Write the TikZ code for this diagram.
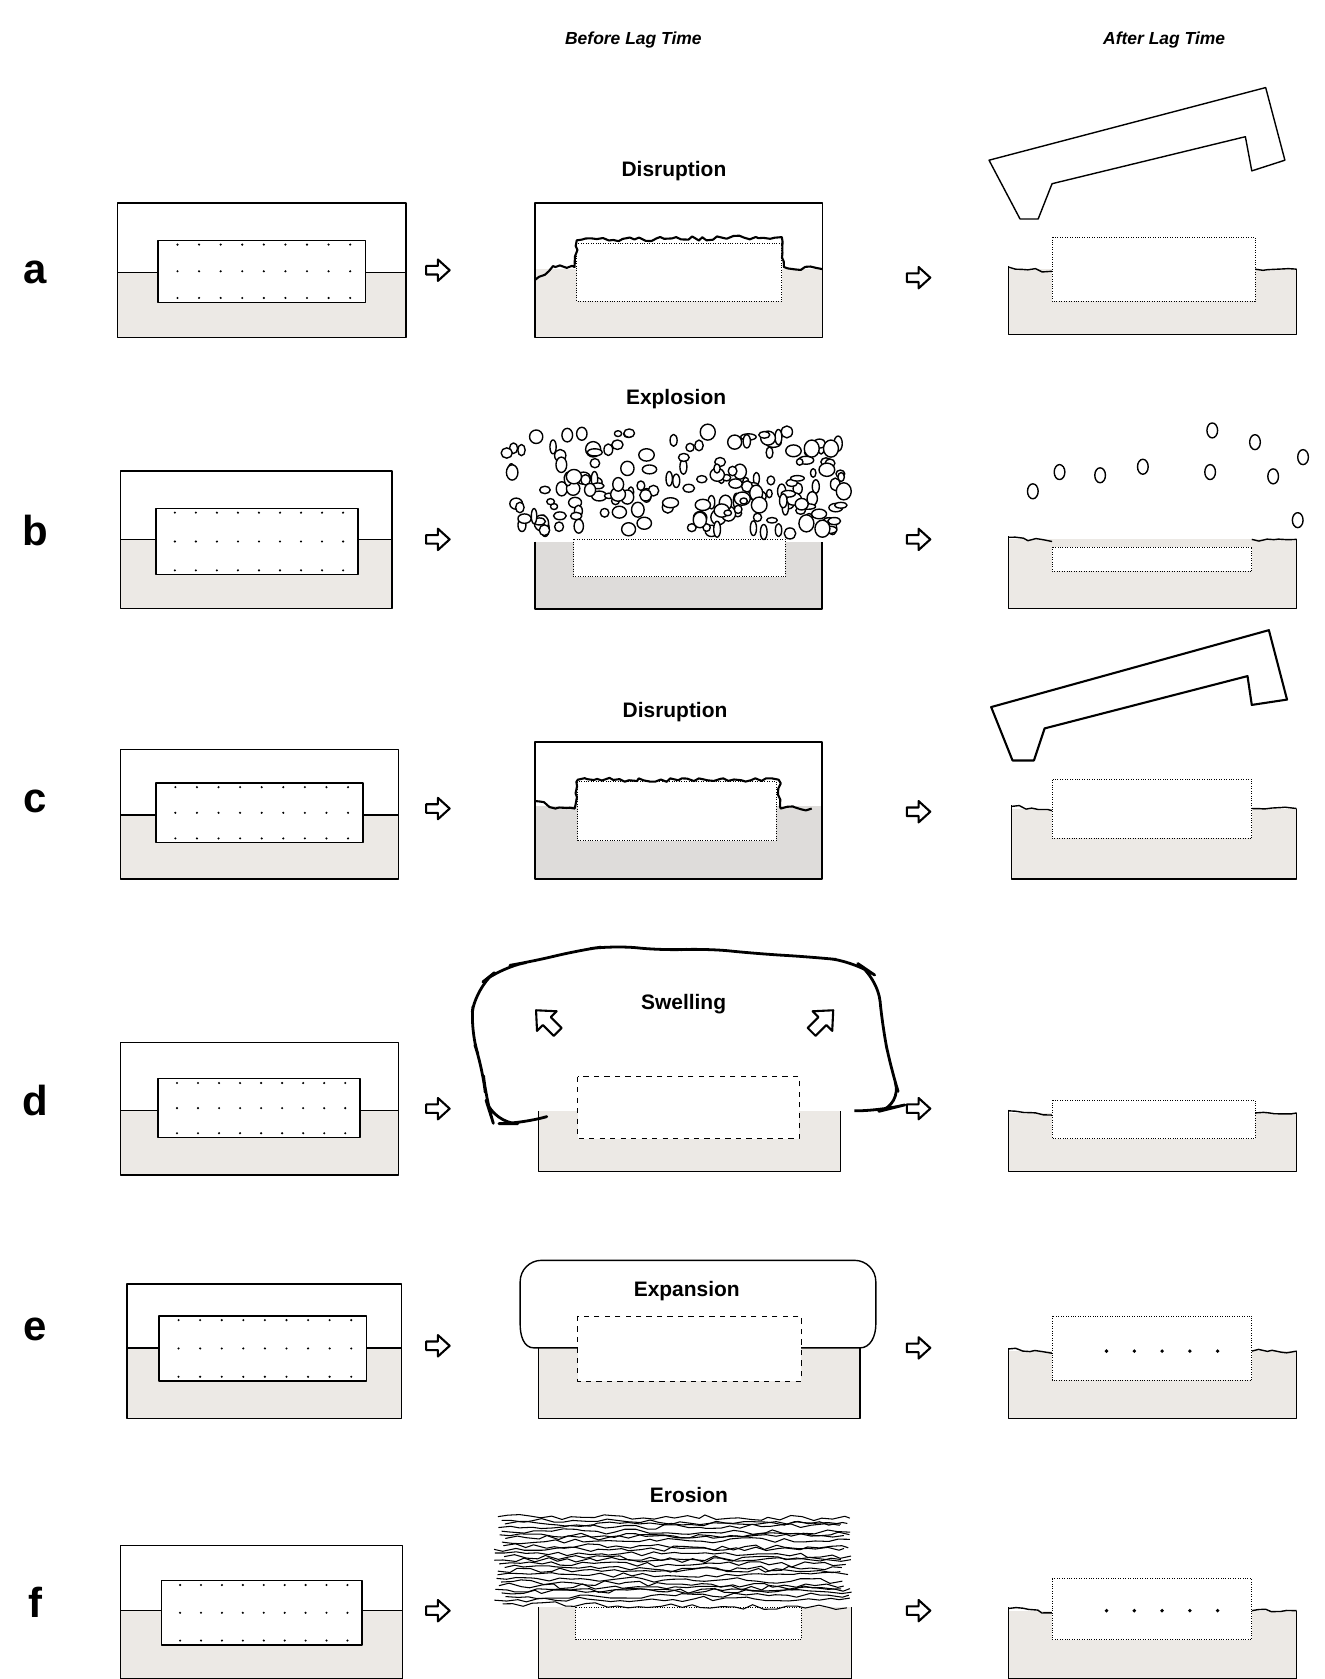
\documentclass[tikz,border=0pt]{standalone}
\usepackage{fontspec}
\setmainfont{Liberation Sans}
\usetikzlibrary{decorations.pathmorphing}
\definecolor{gel}{RGB}{236,233,229}
\definecolor{geld}{RGB}{222,220,218}
\tikzset{
  ground/.style={fill=gel},
  cavity/.style={densely dotted, fill=white},
  fatarrow/.style={very thick, fill=white},
  title/.style={font=\bfseries\large},
  letter/.style={font=\bfseries\fontsize{24}{26}\selectfont},
}
% outlined block arrow at #1, rotated #2, size #3
\newcommand{\blockarrow}[3]{
  \draw[fatarrow, shift={#1}, rotate=#2, scale=#3]
    (-11,-4) -- (0,-4) -- (0,-10) -- (11,0) -- (0,10) -- (0,4) -- (-11,4) -- cycle;
}
% left panel: box x1,y1,x2,y2 ; inner ix1,iy1,ix2,iy2 ; ground level g
\newcommand{\leftpanel}[9]{
  \fill[gel] (#1,#9) rectangle (#3,#4);
  \draw[thick] (#1,#2) rectangle (#3,#4);
  \draw[thick] (#1,#9) -- (#5,#9) (#7,#9) -- (#3,#9);
  \draw[thick, fill=white] (#5,#6) rectangle (#7,#8);
  \foreach \i in {1,...,9}
    \foreach \j in {0,1,2}
      \fill ({#5+(#7-#5)*(\i-0.1)/9.6},{#6+4+(#8-#6-8)*\j/2}) circle (1.1);
}
% after-lag ground: x1,g,x2,y2 ; cavity cx1,cy1,cx2,cy2
\newcommand{\afterpanel}[8]{
  \fill[gel] (#1,#2) rectangle (#3,#4);
  \draw[thick] (#1,#2-3) -- (#1,#4) -- (#3,#4) -- (#3,#2);
  \draw[thick, decorate, decoration={random steps,segment length=4pt,amplitude=1pt}]
    (#1,#2-2) -- (#5,#2+2) (#7,#2) -- (#3,#2);
  \draw[cavity] (#5,#6) rectangle (#7,#8);
}
\begin{document}
\begin{tikzpicture}[x=0.0215cm, y=-0.0215cm, line join=round]
\useasboundingbox (0,0) rectangle (1240,1572);
\pgfmathsetseed{7}

% headers
\node[font=\bfseries\itshape] (before) at (593,37) {Before Lag Time};
\node[font=\bfseries\itshape] (after) at (1090,37) {After Lag Time};

% row letters
\foreach \l/\y in {a/255, b/497, c/750, d/1030, e/1245, f/1500}
  \node[letter] (row\l) at (33,\y) {\l};

% left panels
\leftpanel{110}{190}{380}{316}{148}{225}{342}{283}{255}
\leftpanel{113}{441}{367}{570}{146}{476}{335}{538}{505}
\leftpanel{113}{702}{373}{823}{146}{733}{340}{789}{763}
\leftpanel{113}{976}{373}{1100}{148}{1010}{337}{1065}{1040}
\leftpanel{119}{1202}{376}{1328}{149}{1232}{343}{1293}{1262}
\leftpanel{113}{1447}{377}{1572}{151}{1480}{339}{1540}{1508}

% arrows between panels
\foreach \y in {253, 505, 757, 1038, 1260, 1508}
  \blockarrow{(410,\y)}{0}{1};
\foreach \y in {260, 505, 760, 1038, 1262, 1508}
  \blockarrow{(860,\y)}{0}{1};

% ---- row a: disruption
\node[title] (ta) at (631,160) {Disruption};
\fill[gel] (501,252) rectangle (770,316);
\draw[cavity] (540,228) rectangle (732,282);
\draw[thick] (501,190) rectangle (770,316);
\draw[very thick, decorate, decoration={random steps,segment length=3pt,amplitude=1.2pt}]
  (501,262) -- (520,250) -- (538,250) -- (540,225) -- (732,222) -- (734,250) -- (770,252);
\afterpanel{944}{252}{1214}{313}{985}{222}{1175}{282}
\draw[thick, fill=white] (926,150) -- (1185,82) -- (1203,150) -- (1172,160) -- (1166,128)
  -- (985,172) -- (972,205) -- (955,205) -- cycle;

% ---- row b: explosion
\node[title] (tb) at (633,374) {Explosion};
\fill[geld] (501,507) rectangle (770,570);
\draw[very thick] (501,507) -- (501,570) -- (770,570) -- (770,507);
\draw[cavity] (537,505) rectangle (735,540);
\foreach \k in {1,...,170}{
  \pgfmathsetmacro\px{632+160*rand}
  \pgfmathsetmacro\py{452+48*rand}
  \pgfmathsetmacro\rx{5+2.5*rand}
  \pgfmathsetmacro\ry{5+2.5*rand}
  \draw[thick, fill=white] (\px,\py) ellipse [x radius=\rx, y radius=\ry];
}
\foreach \px/\py in {760/420, 778/420, 790/460, 770/495, 755/490}
  \draw[thick, fill=white] (\px,\py) ellipse [x radius=7, y radius=8];
\afterpanel{944}{505}{1214}{570}{985}{512}{1172}{535}
\foreach \px/\py in {967/460, 992/442, 1030/445, 1070/437, 1135/403, 1175/414, 1220/428,
  1133/442, 1192/446, 1215/487}
  \draw[thick] (\px,\py) ellipse [x radius=5, y radius=7];

% ---- row c: disruption
\node[title] (tc) at (632,667) {Disruption};
\fill[geld] (501,755) rectangle (770,823);
\draw[cavity] (541,732) rectangle (727,787);
\draw[very thick] (501,695) rectangle (770,823);
\draw[very thick, decorate, decoration={random steps,segment length=3pt,amplitude=1.2pt}]
  (501,750) -- (520,757) -- (538,757) -- (541,730) -- (729,730) -- (731,757) -- (760,757);
\afterpanel{947}{757}{1214}{823}{985}{730}{1172}{785}
\draw[very thick, fill=white] (928,662) -- (1188,590) -- (1205,655) -- (1172,660) -- (1168,633)
  -- (978,682) -- (968,712) -- (948,712) -- cycle;

% ---- row d: swelling
\fill[gel] (504,1040) rectangle (787,1097);
\draw[thick] (504,1040) -- (504,1097) -- (787,1097) -- (787,1040);
\draw[dashed, fill=white] (541,1008) rectangle (748,1066);
\draw[ultra thick, rounded corners=14]
  (510,1046) -- (490,1052) -- (462,1052) -- (455,1030) -- (452,1000) -- (440,965)
  -- (445,925) -- (470,905) -- (500,900) -- (540,890) -- (575,885) -- (620,890)
  -- (660,888) -- (710,893) -- (760,896) -- (800,900) -- (822,915) -- (826,960)
  -- (834,1000) -- (845,1035) -- (825,1040) -- (800,1040);
\node[title] (td) at (640,940) {Swelling};
\blockarrow{(512,956)}{135}{1.3}
\blockarrow{(770,956)}{45}{1.3}
\afterpanel{944}{1042}{1214}{1097}{985}{1030}{1175}{1066}

% ---- row e: expansion
\fill[gel] (504,1262) rectangle (805,1328);
\draw[thick] (504,1262) -- (504,1328) -- (805,1328) -- (805,1262);
\draw[thick] (541,1262) -- (500,1262) to[out=180,in=270] (487,1240) -- (487,1200)
  to[out=90,in=180] (507,1180) -- (800,1180) to[out=0,in=90] (820,1200) -- (820,1240)
  to[out=270,in=0] (805,1262) -- (748,1262);
\draw[dashed, fill=white] (541,1232) rectangle (750,1293);
\node[title] (te) at (643,1209) {Expansion};
\afterpanel{944}{1265}{1214}{1328}{985}{1232}{1172}{1292}
\foreach \i in {1,...,5} \fill ({1010+26*\i},1265) circle (1.8);

% ---- row f: erosion
\fill[gel] (504,1505) rectangle (797,1572);
\draw[thick] (504,1505) -- (504,1572) -- (797,1572) -- (797,1505);
\draw[cavity] (539,1505) rectangle (750,1535);
\foreach \k in {0,...,24}
  \draw[semithick, decorate, decoration={random steps,segment length=6pt,amplitude=1.5pt}]
    ({468+6*rand},{1420+3.4*\k}) -- ({792+6*rand},{1420+3.4*\k+4*rand});
\node[title] (tf) at (645,1400) {Erosion};
\afterpanel{944}{1508}{1214}{1572}{985}{1478}{1172}{1535}
\foreach \i in {1,...,5} \fill ({1010+26*\i},1508) circle (1.8);
\end{tikzpicture}
\end{document}
